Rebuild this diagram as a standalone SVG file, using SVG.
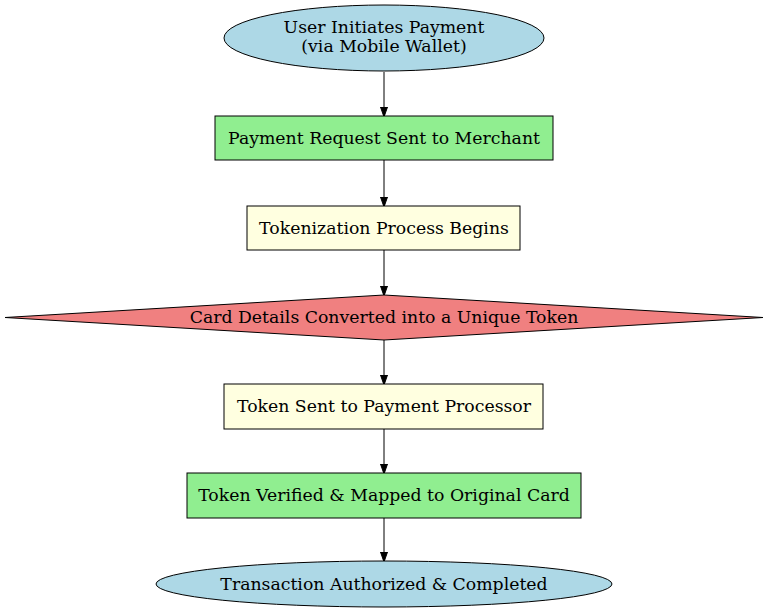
<svg xmlns="http://www.w3.org/2000/svg" width="768" height="613" viewBox="0 0 768 613">
<style>
text{font-family:"DejaVu Serif",serif;font-size:17.3px;fill:#000;text-anchor:middle}
.s{stroke:#000;stroke-width:1}
.e{stroke:#000;stroke-width:1;fill:none}
</style>
<defs><marker id="a" markerWidth="10" markerHeight="10" refX="9" refY="5" orient="auto" markerUnits="userSpaceOnUse"><path d="M0,1.5 L10,5 L0,8.5Z" fill="#000" stroke="#000"/></marker></defs>
<rect width="768" height="613" fill="#fff"/>
<g id="connectors">
<line class="e" x1="384" y1="72" x2="384" y2="116" marker-end="url(#a)"/>
<line class="e" x1="384" y1="160" x2="384" y2="206" marker-end="url(#a)"/>
<line class="e" x1="384" y1="250" x2="384" y2="295" marker-end="url(#a)"/>
<line class="e" x1="384" y1="340" x2="384" y2="384" marker-end="url(#a)"/>
<line class="e" x1="384" y1="429" x2="384" y2="473" marker-end="url(#a)"/>
<line class="e" x1="384" y1="518" x2="384" y2="561" marker-end="url(#a)"/>
</g>
<g id="n1"><ellipse class="s" cx="384" cy="38" rx="160" ry="33" fill="#add8e6"/><text x="384" y="33">User Initiates Payment</text><text x="384" y="52">(via Mobile Wallet)</text></g>
<g id="n2"><rect class="s" x="215" y="116" width="338" height="44" fill="#90ee90"/><text x="384" y="144">Payment Request Sent to Merchant</text></g>
<g id="n3"><rect class="s" x="247" y="206" width="273" height="44" fill="#ffffe0"/><text x="384" y="234">Tokenization Process Begins</text></g>
<g id="n4"><polygon class="s" points="384,295 763,317.5 384,340 5,317.5" fill="#f08080"/><text x="384" y="323">Card Details Converted into a Unique Token</text></g>
<g id="n5"><rect class="s" x="224" y="384" width="319" height="45" fill="#ffffe0"/><text x="384" y="412">Token Sent to Payment Processor</text></g>
<g id="n6"><rect class="s" x="187" y="473" width="394" height="45" fill="#90ee90"/><text x="384" y="501">Token Verified &amp; Mapped to Original Card</text></g>
<g id="n7"><ellipse class="s" cx="384" cy="584" rx="228" ry="23" fill="#add8e6"/><text x="384" y="590">Transaction Authorized &amp; Completed</text></g>
</svg>
